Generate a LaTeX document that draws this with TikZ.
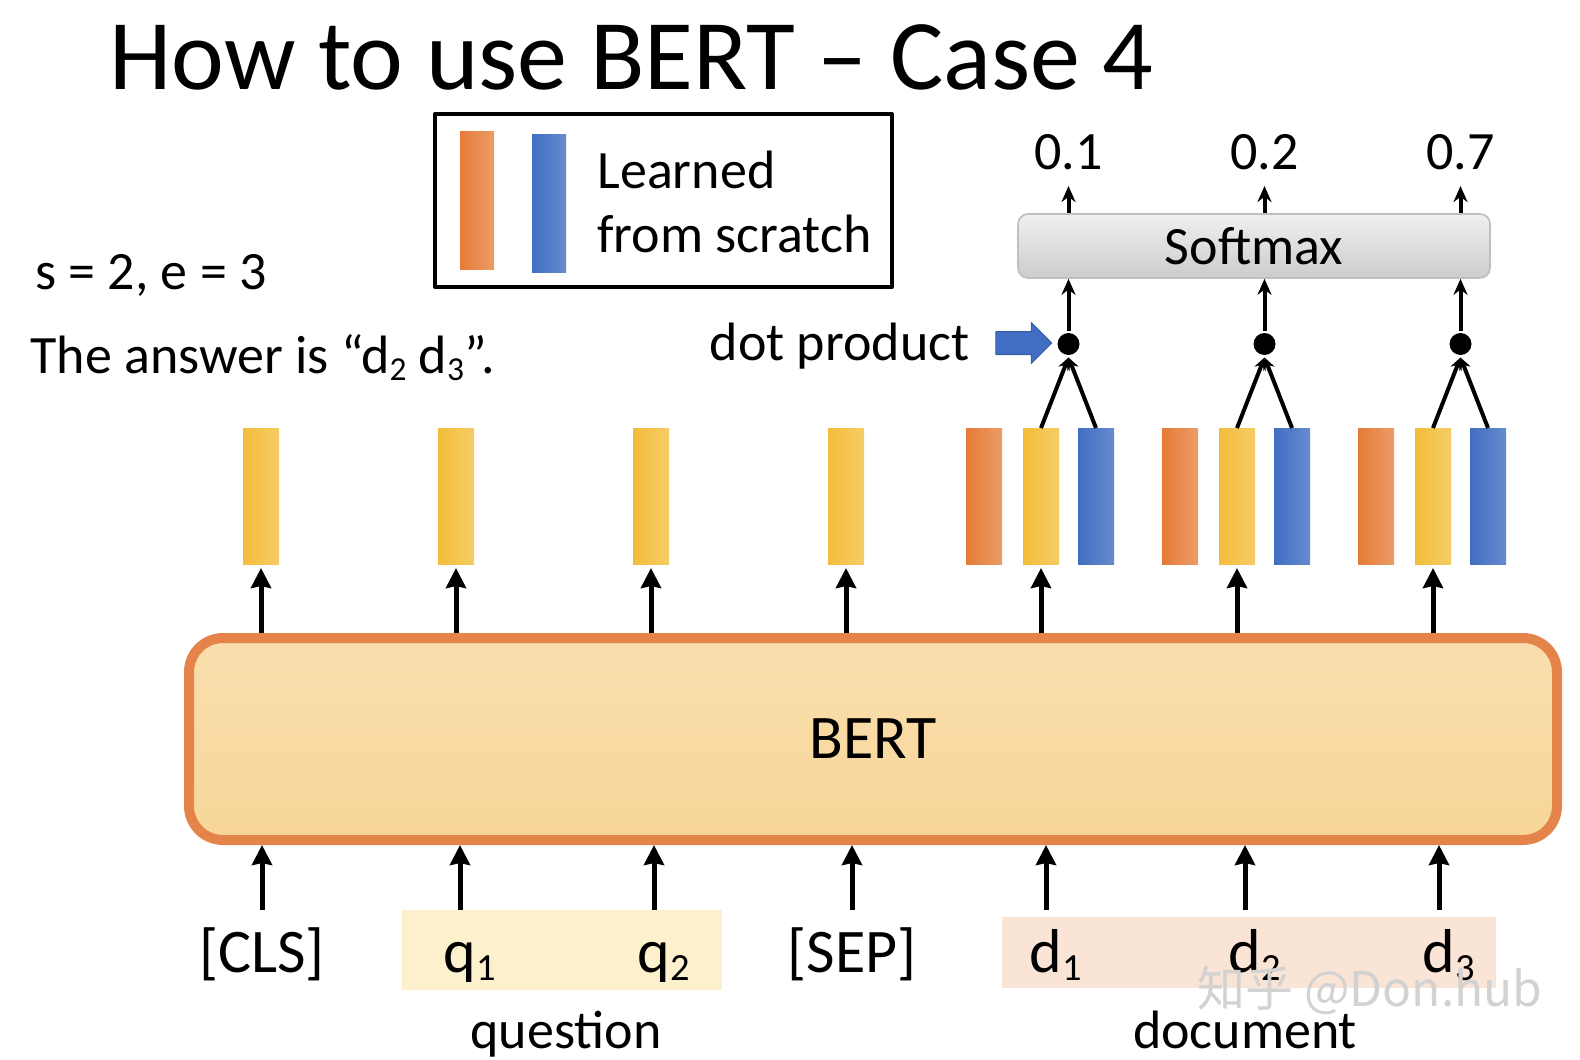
\documentclass[tikz,border=0pt]{standalone}
\usepackage{fontspec}
\setmainfont{Carlito}
\newfontfamily\cjkfont{Noto Sans CJK SC}
\usetikzlibrary{arrows.meta,shapes.arrows,positioning}
\definecolor{vecorange}{HTML}{E57B36}
\definecolor{vecyellow}{HTML}{F3C13F}
\definecolor{vecblue}{HTML}{416EC2}
\definecolor{bertline}{HTML}{E5844A}
\definecolor{bertfill}{HTML}{F8D699}
\definecolor{qshade}{HTML}{FCF0CD}
\definecolor{dshade}{HTML}{FAE4D6}
\newcommand{\fsz}[1]{\fontsize{#1}{#1}\selectfont}
\newcommand{\lsub}[1]{\raisebox{-0.3ex}{\scalebox{0.62}{#1}}}
\newcommand{\tsub}[1]{\rlap{\lsub{#1}}}
\tikzset{
  vec/.style={minimum width=18pt, minimum height=68pt, inner sep=0pt, outer sep=0pt},
  ovec/.style={vec, left color=vecorange, right color=vecorange!75!white},
  yvec/.style={vec, left color=vecyellow!92!orange, right color=vecyellow!80!white},
  bvec/.style={vec, left color=vecblue, right color=vecblue!80!white},
  dotnode/.style={circle, fill=black, minimum size=11pt, inner sep=0pt},
  token/.style={font=\fsz{31}, anchor=base, inner xsep=0pt, inner ysep=7pt, text height=23pt, text depth=7pt},
  small/.style={font=\fsz{27}, inner sep=0pt}
}
\begin{document}
\begin{tikzpicture}[x=0.5pt, y=-0.5pt, line join=round, line width=2.5pt,
  >={Stealth[length=10pt,width=10pt,inset=1pt]}]
\useasboundingbox (0,0) rectangle (1580,1060);
\path (0,344) coordinate (dotrow) (0,186) coordinate (probrow);
% title and notes
\node[anchor=base west, inner sep=0pt, font=\fsz{50}] (title) at (107,89) {How to use BERT – Case 4};
\node[small, anchor=base west] (se) at (33,289) {s = 2, e = 3};
\node[small, anchor=base west] (ans) at (28,373) {The answer is “d\lsub{2} d\lsub{3}”.};
% legend
\draw[line width=2pt] (435,114) rectangle (892,287);
\node[ovec, minimum height=69pt, minimum width=17pt] (lo) at (477,200) {};
\node[bvec, minimum height=69pt, minimum width=17pt] (lb) at (549,203) {};
\node[small, anchor=base west] (learn1) at (595,188) {Learned};
\node[small, anchor=base west] (learn2) at (595,252) {from scratch};
% BERT
\node[draw=bertline, line width=5pt, top color=bertfill!80!white, bottom color=bertfill,
  rounded corners=17pt, minimum width=684pt, minimum height=101pt, font=\fsz{31}] (bert) at (873,739) {BERT};
% output vectors
\foreach \i/\x in {1/261,2/456,3/651,4/846,5/1041,6/1237,7/1433}{
  \node[yvec] (h\i) at (\x,496) {};
  \draw[->, shorten >=2pt] (h\i.south |- bert.north) -- (h\i.south);
}
\node[draw=gray!50, line width=0.8pt, top color=gray!12, bottom color=gray!40, rounded corners=5pt,
  minimum width=236pt, minimum height=32pt, font=\fsz{27}] (soft) at (1254,246) {Softmax};
\foreach \i/\v in {5/0.1,6/0.2,7/0.7}{
  \node[ovec, left=10.5pt of h\i] (o\i) {};
  \node[bvec, right=9.5pt of h\i] (b\i) {};
  \path (h\i.north) -- (b\i.north) coordinate[pos=0.5] (mid\i);
  \node[dotnode] (m\i) at (mid\i |- dotrow) {};
  \draw[->, >={Stealth[length=6pt,width=6pt]}, line width=2pt] (h\i.north) -- (m\i.south);
  \draw[->, >={Stealth[length=6pt,width=6pt]}, line width=2pt] (b\i.north) -- (m\i.south);
  \draw[->, line width=2pt, >={Stealth[length=8pt,width=7pt]}] (m\i.north) -- (m\i.north |- soft.south);
  \node[font=\fsz{27}, anchor=south, inner sep=7pt] (p\i) at (m\i |- probrow) {\v};
  \draw[->, line width=2pt, >={Stealth[length=8pt,width=7pt]}] (m\i |- soft.north) -- (p\i.south);
}
\node[small, anchor=base east] (dp) at (972,360) {dot product};
\node[single arrow, fill=vecblue, draw=vecblue!85!black, line width=0.5pt, inner sep=5.5pt,
  minimum height=28pt, single arrow head extend=4.5pt] (dparr) at (1018,343) {};
% input tokens
\fill[qshade] (402,910) rectangle (722,990);
\fill[dshade] (1002,917) rectangle (1496,988);
\foreach \i/\x/\t in {1/262/{[CLS]},2/460/{q\tsub{1}},3/654/{q\tsub{2}},4/852/{[SEP]},5/1046/{d\tsub{1}},6/1245/{d\tsub{2}},7/1439/{d\tsub{3}}}{
  \node[token] (t\i) at (\x,972) {\t};
  \draw[->] (t\i.north) -- (t\i.north |- bert.south);
}
\node[small, anchor=base] (quest) at (566,1048) {question};
\node[small, anchor=base] (doc) at (1245,1048) {document};
\node[font=\cjkfont\fsz{24}, text=gray!35, inner sep=0pt] (wm) at (1370,990) {知乎 @Don.hub};
\end{tikzpicture}
\end{document}
